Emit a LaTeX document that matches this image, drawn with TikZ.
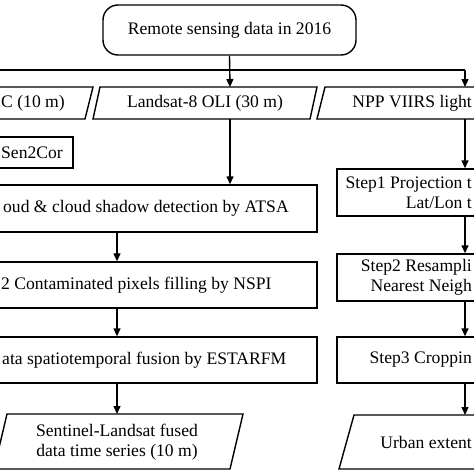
\documentclass[tikz,border=0pt]{standalone}
\usepackage{fontspec}
\setmainfont{Liberation Serif}
\usetikzlibrary{arrows.meta}
\begin{document}
\begin{tikzpicture}[x=1pt,y=-1pt,
  every node/.style={font=\fontsize{17.6}{20}\selectfont},
  shp/.style={draw=black,line width=1.4pt,line join=miter},
  box/.style={shp,rectangle,inner sep=0pt},
  txt/.style={inner sep=0pt},
  arr/.style={line width=1.4pt,-{Triangle[length=8pt,width=7pt]}},
  ln/.style={line width=1.4pt}]
\useasboundingbox (0,0) rectangle (474,474);
\clip (0,0) rectangle (474,474);
% top
\node[shp,rounded corners=15pt,minimum width=253pt,minimum height=50pt] (top) at (229.5,30) {Remote sensing data in 2016};
% first row parallelograms
\draw[shp] (-120,119) -- (-113,87) -- (93,87) -- (85,119) -- cycle;
\node[txt,anchor=west] (sentxt) at (1,103) {C (10 m)};
\draw[shp] (93,119) -- (100,87) -- (317,87) -- (310,119) -- cycle;
\coordinate (landT) at (230,87);
\coordinate (landB) at (230,119);
\node[txt] (landtxt) at (205,103) {Landsat-8 OLI (30 m)};
\draw[shp] (317,119) -- (325,87) -- (600,87) -- (592,119) -- cycle;
\coordinate (nppT) at (465,87);
\coordinate (nppB) at (465,119);
\node[txt,anchor=east] (npptxt) at (472,103) {NPP VIIRS light};
% connectors from top
\coordinate (hl) at (-50,70);
\coordinate (hr) at (465,70);
\draw[arr] (top.south) -- (landT);
\draw[ln] (hl) -- (hr);
\draw[arr] (hr) -- (nppT);
% left column
\node[box,minimum width=173pt,minimum height=31pt] (sen2cor) at (-13.5,152.5) {};
\node[txt,anchor=west] (sen2cortxt) at (1,152.5) {Sen2Cor};
\node[box,minimum width=417pt,minimum height=47pt] (atsa) at (108.5,208.5) {};
\node[txt,anchor=west] (atsatxt) at (3,208.5) {oud \& cloud shadow detection by ATSA};
\node[box,minimum width=417pt,minimum height=46pt] (nspi) at (108.5,285) {};
\node[txt,anchor=west] (nspitxt) at (1,285) {2 Contaminated pixels filling by NSPI};
\node[box,minimum width=417pt,minimum height=46pt] (estarfm) at (108.5,360) {};
\node[txt,anchor=west] (estarfmtxt) at (2,360) {ata spatiotemporal fusion by ESTARFM};
\draw[shp] (-6,469) -- (7,414) -- (243,414) -- (230,469) -- cycle;
\coordinate (outT) at (117,414);
\node[txt,align=center] (outtxt) at (117,442) {Sentinel-Landsat fused\\data time series (10 m)};
\draw[arr] (landB) -- (landB |- atsa.north);
\draw[arr] (atsa.south -| outT) -- (nspi.north -| outT);
\draw[arr] (nspi.south -| outT) -- (estarfm.north -| outT);
\draw[arr] (estarfm.south -| outT) -- (outT);
% right column
\node[box,minimum width=263pt,minimum height=47pt] (step1) at (468.5,192.5) {};
\node[txt,anchor=east,align=right] (step1txt) at (472,192.5) {Step1 Projection t\\Lat/Lon t};
\node[box,minimum width=263pt,minimum height=47pt] (step2) at (468.5,277.5) {};
\node[txt,anchor=east,align=right] (step2txt) at (472,277.5) {Step2 Resampli\\Nearest Neigh};
\node[box,minimum width=263pt,minimum height=46pt] (step3) at (468.5,360) {};
\node[txt,anchor=east] (step3txt) at (472,360) {Step3 Croppin};
\draw[shp] (339,469) -- (354,415) -- (620,415) -- (605,469) -- cycle;
\coordinate (urbT) at (465,415);
\node[txt,anchor=east] (urbtxt) at (472,442) {Urban extent};
\draw[arr] (nppB) -- (nppB |- step1.north);
\draw[arr] (step1.south -| nppB) -- (step2.north -| nppB);
\draw[arr] (step2.south -| nppB) -- (step3.north -| nppB);
\draw[arr] (step3.south -| nppB) -- (urbT);
\end{tikzpicture}
\end{document}
